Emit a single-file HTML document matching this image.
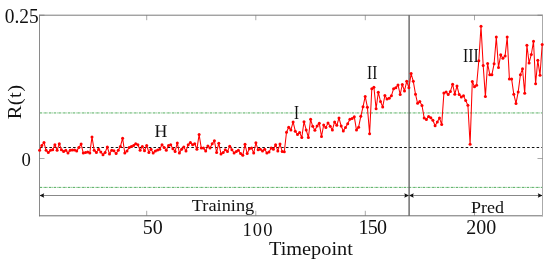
<!DOCTYPE html>
<html><head><meta charset="utf-8"><title>R(t) chart</title>
<style>
html,body{margin:0;padding:0;background:#fff;}
svg{display:block;}
text{font-family:"Liberation Serif",serif;fill:#111;}
</style></head><body>
<svg width="550" height="264" viewBox="0 0 550 264">
<rect width="550" height="264" fill="#fff"/>
<g stroke="#2a9a38" stroke-width="0.95" stroke-dasharray="2.5 0.8 0.63 0.8" fill="none" opacity="0.85">
<line x1="39.5" y1="112.95" x2="542.5" y2="112.95"/>
<line x1="39.5" y1="187.4" x2="542.5" y2="187.4"/>
</g>
<line x1="39.5" y1="147.5" x2="542.5" y2="147.5" stroke="#111" stroke-width="1.1" stroke-dasharray="2.55 2.18" stroke-dashoffset="-0.45"/>
<line x1="39.5" y1="195.5" x2="542.5" y2="195.5" stroke="#888888" stroke-width="1"/>
<g fill="#111"><path d="M39.5,195.5 L44.2,193.3 L43.5,195.5 L44.2,197.7 Z"/><path d="M409,195.5 L404.3,193.3 L405.0,195.5 L404.3,197.7 Z"/><path d="M409,195.5 L413.7,193.3 L413.0,195.5 L413.7,197.7 Z"/><path d="M542.5,195.5 L537.8,193.3 L538.5,195.5 L537.8,197.7 Z"/></g>
<line x1="39.5" y1="14.7" x2="39.5" y2="216.3" stroke="#8a8a8a" stroke-width="1"/>
<line x1="39.5" y1="15.2" x2="542.5" y2="15.2" stroke="#7a7a7a" stroke-width="1"/>
<line x1="39.0" y1="215.8" x2="543.0" y2="215.8" stroke="#707070" stroke-width="1"/>
<line x1="542.5" y1="14.7" x2="542.5" y2="216.3" stroke="#aaaaaa" stroke-width="1"/>
<g stroke="#707070" stroke-width="0.6"><line x1="146.7" y1="215.8" x2="146.7" y2="210.8"/><line x1="146.7" y1="15.2" x2="146.7" y2="20.2"/><line x1="255.8" y1="215.8" x2="255.8" y2="210.8"/><line x1="255.8" y1="15.2" x2="255.8" y2="20.2"/><line x1="365.3" y1="215.8" x2="365.3" y2="210.8"/><line x1="365.3" y1="15.2" x2="365.3" y2="20.2"/><line x1="474.5" y1="215.8" x2="474.5" y2="210.8"/><line x1="474.5" y1="15.2" x2="474.5" y2="20.2"/><line x1="39.5" y1="15.2" x2="44.5" y2="15.2"/><line x1="542.5" y1="15.2" x2="537.5" y2="15.2"/><line x1="39.5" y1="158.5" x2="44.5" y2="158.5"/><line x1="542.5" y1="158.5" x2="537.5" y2="158.5"/></g>
<line x1="409.1" y1="15.2" x2="409.1" y2="215.8" stroke="#5a5a5a" stroke-width="1.3"/>
<polyline points="39.6,150.3 41.8,145.4 44.0,142.6 46.1,150.3 48.3,152.5 50.5,150.3 52.7,149.8 54.9,144.8 57.1,150.3 59.3,143.7 61.4,149.8 63.6,151.4 65.8,150.3 68.0,152.9 70.2,150.3 72.4,150.1 74.6,150.1 76.7,150.9 78.9,147.6 81.1,144.1 83.3,153.1 85.5,152.5 87.7,152.0 89.8,153.0 92.0,136.9 94.2,150.3 96.4,152.5 98.6,149.2 100.8,152.0 103.0,154.7 105.1,152.5 107.3,147.0 109.5,154.0 111.7,150.3 113.9,150.7 116.1,153.6 118.3,150.3 120.4,146.5 122.6,138.2 124.8,153.1 127.0,150.9 129.2,147.6 131.4,146.5 133.6,145.4 135.7,143.7 137.9,144.8 140.1,150.3 142.3,146.5 144.5,150.7 146.7,145.4 148.9,152.5 151.0,149.2 153.2,153.1 155.4,150.9 157.6,150.0 159.8,149.2 162.0,144.8 164.1,147.6 166.3,150.3 168.5,145.4 170.7,144.8 172.9,148.7 175.1,151.4 177.3,143.0 179.4,152.9 181.6,149.2 183.8,147.0 186.0,150.9 188.2,144.8 190.4,142.6 192.6,144.8 194.7,143.7 196.9,149.2 199.1,134.6 201.3,148.1 203.5,148.1 205.7,150.9 207.9,145.9 210.0,148.1 212.2,143.7 214.4,140.8 216.6,152.5 218.8,143.2 221.0,154.0 223.2,152.5 225.3,149.8 227.5,151.4 229.7,146.3 231.9,149.8 234.1,152.9 236.3,151.4 238.4,150.3 240.6,153.6 242.8,155.3 245.0,144.3 247.2,153.6 249.4,148.7 251.6,148.1 253.7,153.1 255.9,142.8 258.1,149.8 260.3,149.2 262.5,150.9 264.7,149.2 266.9,152.9 269.0,152.0 271.2,148.1 273.4,149.2 275.6,144.8 277.8,150.9 280.0,144.1 282.2,151.4 284.3,151.8 286.5,132.2 288.7,127.3 290.9,129.9 293.1,121.9 295.3,131.2 297.5,134.5 299.6,132.6 301.8,137.5 304.0,121.7 306.2,129.9 308.4,137.5 310.6,119.3 312.7,126.3 314.9,130.3 317.1,125.9 319.3,123.3 321.5,136.5 323.7,125.0 325.9,127.6 328.0,122.9 330.2,126.3 332.4,129.9 334.6,121.9 336.8,125.3 339.0,118.0 341.2,126.1 343.3,131.0 345.5,127.4 347.7,123.7 349.9,119.2 352.1,118.6 354.3,116.8 356.5,130.1 358.6,127.2 360.8,116.3 363.0,106.8 365.2,96.4 367.4,107.2 369.6,133.7 371.8,88.7 373.9,87.3 376.1,108.7 378.3,92.2 380.5,101.5 382.7,106.9 384.9,95.5 387.0,99.1 389.2,98.2 391.4,95.8 393.6,88.7 395.8,87.8 398.0,84.9 400.2,94.5 402.3,84.5 404.5,90.9 406.7,81.3 408.9,87.8 411.1,73.6 413.3,81.3 415.5,94.2 417.6,103.3 419.8,101.5 422.0,105.5 424.2,118.1 426.4,119.4 428.6,116.4 430.8,117.8 432.9,120.2 435.1,125.7 437.3,122.0 439.5,118.1 441.7,124.5 443.9,93.1 446.1,91.9 448.2,94.6 450.4,91.4 452.6,84.2 454.8,94.2 457.0,86.0 459.2,94.6 461.3,96.9 463.5,95.8 465.7,100.6 467.9,105.3 470.1,144.2 472.3,81.4 474.5,86.7 476.6,85.2 478.8,60.7 481.0,26.2 483.2,65.6 485.4,96.6 487.6,63.5 489.8,74.7 491.9,74.7 494.1,63.8 496.3,37.1 498.5,67.5 500.7,54.8 502.9,58.2 505.1,55.9 507.2,37.1 509.4,78.9 511.6,78.9 513.8,94.2 516.0,103.4 518.2,91.9 520.4,74.7 522.5,68.7 524.7,93.3 526.9,45.3 529.1,62.9 531.3,54.5 533.5,41.3 535.6,83.8 537.8,60.2 540.0,75.3 542.2,44.4" fill="none" stroke="#ff0000" stroke-width="1.05" stroke-linejoin="round"/>
<g fill="#ff0000"><circle cx="39.6" cy="150.3" r="1.5"/><circle cx="41.8" cy="145.4" r="1.5"/><circle cx="44.0" cy="142.6" r="1.5"/><circle cx="46.1" cy="150.3" r="1.5"/><circle cx="48.3" cy="152.5" r="1.5"/><circle cx="50.5" cy="150.3" r="1.5"/><circle cx="52.7" cy="149.8" r="1.5"/><circle cx="54.9" cy="144.8" r="1.5"/><circle cx="57.1" cy="150.3" r="1.5"/><circle cx="59.3" cy="143.7" r="1.5"/><circle cx="61.4" cy="149.8" r="1.5"/><circle cx="63.6" cy="151.4" r="1.5"/><circle cx="65.8" cy="150.3" r="1.5"/><circle cx="68.0" cy="152.9" r="1.5"/><circle cx="70.2" cy="150.3" r="1.5"/><circle cx="72.4" cy="150.1" r="1.5"/><circle cx="74.6" cy="150.1" r="1.5"/><circle cx="76.7" cy="150.9" r="1.5"/><circle cx="78.9" cy="147.6" r="1.5"/><circle cx="81.1" cy="144.1" r="1.5"/><circle cx="83.3" cy="153.1" r="1.5"/><circle cx="85.5" cy="152.5" r="1.5"/><circle cx="87.7" cy="152.0" r="1.5"/><circle cx="89.8" cy="153.0" r="1.5"/><circle cx="92.0" cy="136.9" r="1.5"/><circle cx="94.2" cy="150.3" r="1.5"/><circle cx="96.4" cy="152.5" r="1.5"/><circle cx="98.6" cy="149.2" r="1.5"/><circle cx="100.8" cy="152.0" r="1.5"/><circle cx="103.0" cy="154.7" r="1.5"/><circle cx="105.1" cy="152.5" r="1.5"/><circle cx="107.3" cy="147.0" r="1.5"/><circle cx="109.5" cy="154.0" r="1.5"/><circle cx="111.7" cy="150.3" r="1.5"/><circle cx="113.9" cy="150.7" r="1.5"/><circle cx="116.1" cy="153.6" r="1.5"/><circle cx="118.3" cy="150.3" r="1.5"/><circle cx="120.4" cy="146.5" r="1.5"/><circle cx="122.6" cy="138.2" r="1.5"/><circle cx="124.8" cy="153.1" r="1.5"/><circle cx="127.0" cy="150.9" r="1.5"/><circle cx="129.2" cy="147.6" r="1.5"/><circle cx="131.4" cy="146.5" r="1.5"/><circle cx="133.6" cy="145.4" r="1.5"/><circle cx="135.7" cy="143.7" r="1.5"/><circle cx="137.9" cy="144.8" r="1.5"/><circle cx="140.1" cy="150.3" r="1.5"/><circle cx="142.3" cy="146.5" r="1.5"/><circle cx="144.5" cy="150.7" r="1.5"/><circle cx="146.7" cy="145.4" r="1.5"/><circle cx="148.9" cy="152.5" r="1.5"/><circle cx="151.0" cy="149.2" r="1.5"/><circle cx="153.2" cy="153.1" r="1.5"/><circle cx="155.4" cy="150.9" r="1.5"/><circle cx="157.6" cy="150.0" r="1.5"/><circle cx="159.8" cy="149.2" r="1.5"/><circle cx="162.0" cy="144.8" r="1.5"/><circle cx="164.1" cy="147.6" r="1.5"/><circle cx="166.3" cy="150.3" r="1.5"/><circle cx="168.5" cy="145.4" r="1.5"/><circle cx="170.7" cy="144.8" r="1.5"/><circle cx="172.9" cy="148.7" r="1.5"/><circle cx="175.1" cy="151.4" r="1.5"/><circle cx="177.3" cy="143.0" r="1.5"/><circle cx="179.4" cy="152.9" r="1.5"/><circle cx="181.6" cy="149.2" r="1.5"/><circle cx="183.8" cy="147.0" r="1.5"/><circle cx="186.0" cy="150.9" r="1.5"/><circle cx="188.2" cy="144.8" r="1.5"/><circle cx="190.4" cy="142.6" r="1.5"/><circle cx="192.6" cy="144.8" r="1.5"/><circle cx="194.7" cy="143.7" r="1.5"/><circle cx="196.9" cy="149.2" r="1.5"/><circle cx="199.1" cy="134.6" r="1.5"/><circle cx="201.3" cy="148.1" r="1.5"/><circle cx="203.5" cy="148.1" r="1.5"/><circle cx="205.7" cy="150.9" r="1.5"/><circle cx="207.9" cy="145.9" r="1.5"/><circle cx="210.0" cy="148.1" r="1.5"/><circle cx="212.2" cy="143.7" r="1.5"/><circle cx="214.4" cy="140.8" r="1.5"/><circle cx="216.6" cy="152.5" r="1.5"/><circle cx="218.8" cy="143.2" r="1.5"/><circle cx="221.0" cy="154.0" r="1.5"/><circle cx="223.2" cy="152.5" r="1.5"/><circle cx="225.3" cy="149.8" r="1.5"/><circle cx="227.5" cy="151.4" r="1.5"/><circle cx="229.7" cy="146.3" r="1.5"/><circle cx="231.9" cy="149.8" r="1.5"/><circle cx="234.1" cy="152.9" r="1.5"/><circle cx="236.3" cy="151.4" r="1.5"/><circle cx="238.4" cy="150.3" r="1.5"/><circle cx="240.6" cy="153.6" r="1.5"/><circle cx="242.8" cy="155.3" r="1.5"/><circle cx="245.0" cy="144.3" r="1.5"/><circle cx="247.2" cy="153.6" r="1.5"/><circle cx="249.4" cy="148.7" r="1.5"/><circle cx="251.6" cy="148.1" r="1.5"/><circle cx="253.7" cy="153.1" r="1.5"/><circle cx="255.9" cy="142.8" r="1.5"/><circle cx="258.1" cy="149.8" r="1.5"/><circle cx="260.3" cy="149.2" r="1.5"/><circle cx="262.5" cy="150.9" r="1.5"/><circle cx="264.7" cy="149.2" r="1.5"/><circle cx="266.9" cy="152.9" r="1.5"/><circle cx="269.0" cy="152.0" r="1.5"/><circle cx="271.2" cy="148.1" r="1.5"/><circle cx="273.4" cy="149.2" r="1.5"/><circle cx="275.6" cy="144.8" r="1.5"/><circle cx="277.8" cy="150.9" r="1.5"/><circle cx="280.0" cy="144.1" r="1.5"/><circle cx="282.2" cy="151.4" r="1.5"/><circle cx="284.3" cy="151.8" r="1.5"/><circle cx="286.5" cy="132.2" r="1.5"/><circle cx="288.7" cy="127.3" r="1.5"/><circle cx="290.9" cy="129.9" r="1.5"/><circle cx="293.1" cy="121.9" r="1.5"/><circle cx="295.3" cy="131.2" r="1.5"/><circle cx="297.5" cy="134.5" r="1.5"/><circle cx="299.6" cy="132.6" r="1.5"/><circle cx="301.8" cy="137.5" r="1.5"/><circle cx="304.0" cy="121.7" r="1.5"/><circle cx="306.2" cy="129.9" r="1.5"/><circle cx="308.4" cy="137.5" r="1.5"/><circle cx="310.6" cy="119.3" r="1.5"/><circle cx="312.7" cy="126.3" r="1.5"/><circle cx="314.9" cy="130.3" r="1.5"/><circle cx="317.1" cy="125.9" r="1.5"/><circle cx="319.3" cy="123.3" r="1.5"/><circle cx="321.5" cy="136.5" r="1.5"/><circle cx="323.7" cy="125.0" r="1.5"/><circle cx="325.9" cy="127.6" r="1.5"/><circle cx="328.0" cy="122.9" r="1.5"/><circle cx="330.2" cy="126.3" r="1.5"/><circle cx="332.4" cy="129.9" r="1.5"/><circle cx="334.6" cy="121.9" r="1.5"/><circle cx="336.8" cy="125.3" r="1.5"/><circle cx="339.0" cy="118.0" r="1.5"/><circle cx="341.2" cy="126.1" r="1.5"/><circle cx="343.3" cy="131.0" r="1.5"/><circle cx="345.5" cy="127.4" r="1.5"/><circle cx="347.7" cy="123.7" r="1.5"/><circle cx="349.9" cy="119.2" r="1.5"/><circle cx="352.1" cy="118.6" r="1.5"/><circle cx="354.3" cy="116.8" r="1.5"/><circle cx="356.5" cy="130.1" r="1.5"/><circle cx="358.6" cy="127.2" r="1.5"/><circle cx="360.8" cy="116.3" r="1.5"/><circle cx="363.0" cy="106.8" r="1.5"/><circle cx="365.2" cy="96.4" r="1.5"/><circle cx="367.4" cy="107.2" r="1.5"/><circle cx="369.6" cy="133.7" r="1.5"/><circle cx="371.8" cy="88.7" r="1.5"/><circle cx="373.9" cy="87.3" r="1.5"/><circle cx="376.1" cy="108.7" r="1.5"/><circle cx="378.3" cy="92.2" r="1.5"/><circle cx="380.5" cy="101.5" r="1.5"/><circle cx="382.7" cy="106.9" r="1.5"/><circle cx="384.9" cy="95.5" r="1.5"/><circle cx="387.0" cy="99.1" r="1.5"/><circle cx="389.2" cy="98.2" r="1.5"/><circle cx="391.4" cy="95.8" r="1.5"/><circle cx="393.6" cy="88.7" r="1.5"/><circle cx="395.8" cy="87.8" r="1.5"/><circle cx="398.0" cy="84.9" r="1.5"/><circle cx="400.2" cy="94.5" r="1.5"/><circle cx="402.3" cy="84.5" r="1.5"/><circle cx="404.5" cy="90.9" r="1.5"/><circle cx="406.7" cy="81.3" r="1.5"/><circle cx="408.9" cy="87.8" r="1.5"/><circle cx="411.1" cy="73.6" r="1.5"/><circle cx="413.3" cy="81.3" r="1.5"/><circle cx="415.5" cy="94.2" r="1.5"/><circle cx="417.6" cy="103.3" r="1.5"/><circle cx="419.8" cy="101.5" r="1.5"/><circle cx="422.0" cy="105.5" r="1.5"/><circle cx="424.2" cy="118.1" r="1.5"/><circle cx="426.4" cy="119.4" r="1.5"/><circle cx="428.6" cy="116.4" r="1.5"/><circle cx="430.8" cy="117.8" r="1.5"/><circle cx="432.9" cy="120.2" r="1.5"/><circle cx="435.1" cy="125.7" r="1.5"/><circle cx="437.3" cy="122.0" r="1.5"/><circle cx="439.5" cy="118.1" r="1.5"/><circle cx="441.7" cy="124.5" r="1.5"/><circle cx="443.9" cy="93.1" r="1.5"/><circle cx="446.1" cy="91.9" r="1.5"/><circle cx="448.2" cy="94.6" r="1.5"/><circle cx="450.4" cy="91.4" r="1.5"/><circle cx="452.6" cy="84.2" r="1.5"/><circle cx="454.8" cy="94.2" r="1.5"/><circle cx="457.0" cy="86.0" r="1.5"/><circle cx="459.2" cy="94.6" r="1.5"/><circle cx="461.3" cy="96.9" r="1.5"/><circle cx="463.5" cy="95.8" r="1.5"/><circle cx="465.7" cy="100.6" r="1.5"/><circle cx="467.9" cy="105.3" r="1.5"/><circle cx="470.1" cy="144.2" r="1.5"/><circle cx="472.3" cy="81.4" r="1.5"/><circle cx="474.5" cy="86.7" r="1.5"/><circle cx="476.6" cy="85.2" r="1.5"/><circle cx="478.8" cy="60.7" r="1.5"/><circle cx="481.0" cy="26.2" r="1.5"/><circle cx="483.2" cy="65.6" r="1.5"/><circle cx="485.4" cy="96.6" r="1.5"/><circle cx="487.6" cy="63.5" r="1.5"/><circle cx="489.8" cy="74.7" r="1.5"/><circle cx="491.9" cy="74.7" r="1.5"/><circle cx="494.1" cy="63.8" r="1.5"/><circle cx="496.3" cy="37.1" r="1.5"/><circle cx="498.5" cy="67.5" r="1.5"/><circle cx="500.7" cy="54.8" r="1.5"/><circle cx="502.9" cy="58.2" r="1.5"/><circle cx="505.1" cy="55.9" r="1.5"/><circle cx="507.2" cy="37.1" r="1.5"/><circle cx="509.4" cy="78.9" r="1.5"/><circle cx="511.6" cy="78.9" r="1.5"/><circle cx="513.8" cy="94.2" r="1.5"/><circle cx="516.0" cy="103.4" r="1.5"/><circle cx="518.2" cy="91.9" r="1.5"/><circle cx="520.4" cy="74.7" r="1.5"/><circle cx="522.5" cy="68.7" r="1.5"/><circle cx="524.7" cy="93.3" r="1.5"/><circle cx="526.9" cy="45.3" r="1.5"/><circle cx="529.1" cy="62.9" r="1.5"/><circle cx="531.3" cy="54.5" r="1.5"/><circle cx="533.5" cy="41.3" r="1.5"/><circle cx="535.6" cy="83.8" r="1.5"/><circle cx="537.8" cy="60.2" r="1.5"/><circle cx="540.0" cy="75.3" r="1.5"/><circle cx="542.2" cy="44.4" r="1.5"/></g>
<g font-size="20px">
<text x="4.7" y="22.7" textLength="34" lengthAdjust="spacingAndGlyphs">0.25</text>
<text x="21.6" y="166" font-size="18.7px">0</text>
<text x="142.7" y="234.2">50</text>
<text x="242.4" y="235.9" font-size="18.5px" letter-spacing="1.2">100</text>
<text x="358.4" y="234.2" textLength="28.6" lengthAdjust="spacing">150</text>
<text x="466.3" y="234" >200</text>
<text transform="translate(269,255.1) scale(1.122,1)" font-size="18.1px">Timepoint</text>
<text transform="translate(20.6,119.2) rotate(-90) scale(1.05,1)" font-size="19.5px" letter-spacing="0.4">R(t)</text>
</g>
<g font-size="16.5px">
<text transform="translate(191.8,211) scale(1.11,1)">Training</text>
<text transform="translate(471,212.7) scale(1.03,1)" font-size="17.5px">Pred</text>
<text transform="translate(154.6,136.9) rotate(0.03)" font-size="17.8px">H</text>
</g>
<g>
<text transform="translate(294,118.6) scale(0.78,1)" font-size="19.4px">I</text>
<text transform="translate(367,79.3) scale(0.8,1)" font-size="19.3px">II</text>
<text transform="translate(463,61.6) scale(0.8,1)" font-size="19.6px">III</text>
</g>
</svg>
</body></html>
